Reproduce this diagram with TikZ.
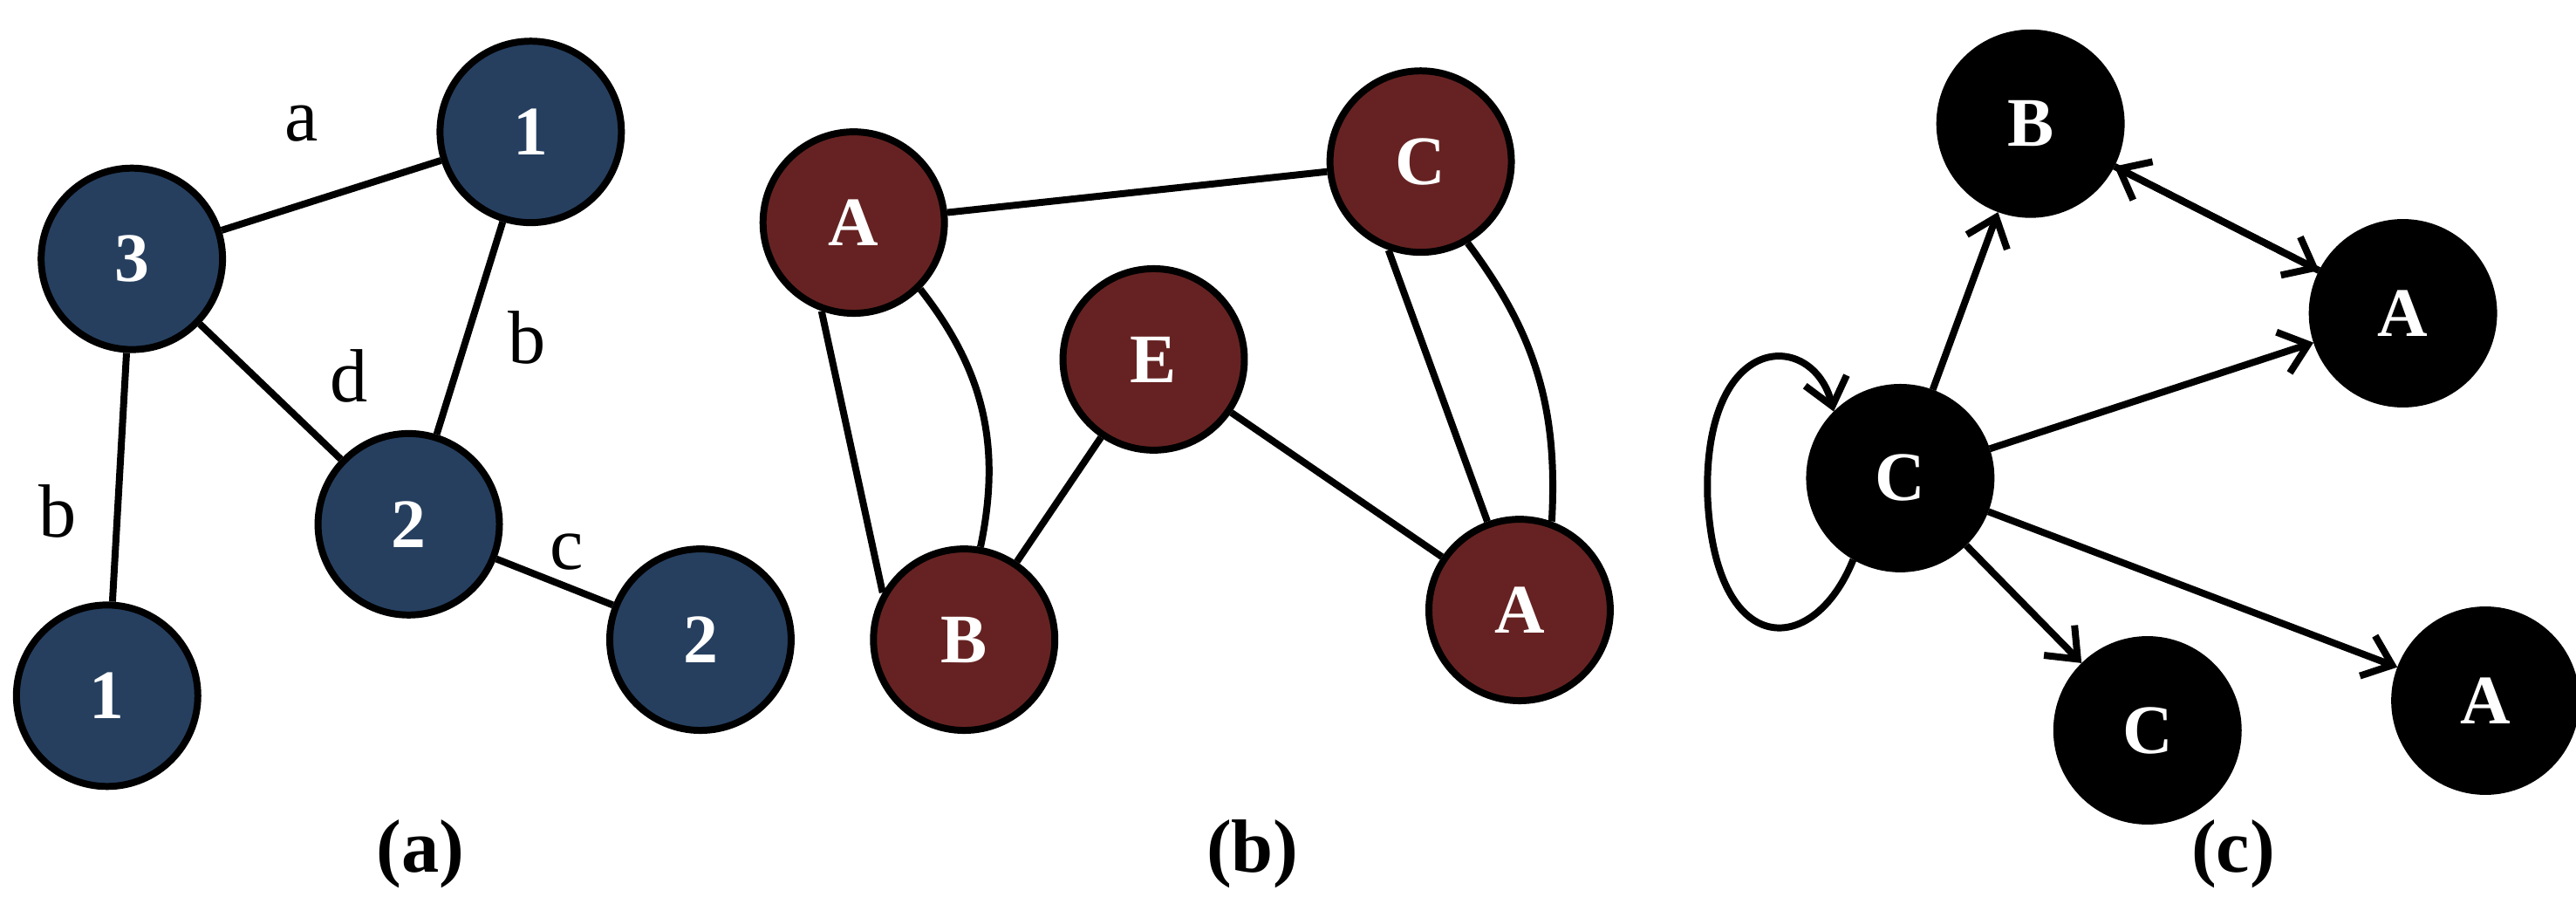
\documentclass[tikz,border=0pt]{standalone}
\usepackage{fontspec}
\setmainfont{Liberation Serif}
\usetikzlibrary{arrows.meta}
\definecolor{nblue}{HTML}{263F5F}
\definecolor{nred}{HTML}{662222}
\begin{document}
\begin{tikzpicture}[x=0.01cm,y=-0.01cm,
 n/.style={circle,draw=black,line width=1.2pt,minimum size=1.1cm,inner sep=0pt,text=white,font=\fontsize{12}{14}\selectfont\bfseries},
 bn/.style={n,fill=nblue}, rn/.style={n,fill=nred}, kn/.style={n,fill=black},
 e/.style={line width=1.2pt},
 a/.style={e,-{Straight Barb[length=1.6mm,width=2.6mm]}},
 lab/.style={font=\fontsize{13}{15}\selectfont},
 captxt/.style={font=\fontsize{13}{16}\selectfont\bfseries}]
\useasboundingbox (0,0) rectangle (1563,544);
% (a)
\node[bn] (a3) at (80,157) {3};
\node[bn] (a1) at (322,80) {1};
\node[bn] (a2) at (248,318) {2};
\node[bn] (a2b) at (425,388) {2};
\node[bn] (a1b) at (65,422) {1};
\draw[e] (a3)--(a1); \draw[e] (a3)--(a2); \draw[e] (a1)--(a2);
\draw[e] (a2)--(a2b); \draw[e] (a3)--(a1b);
\node[lab] (la) at (183,75) {a};
\node[lab] (ld) at (212,228) {d};
\node[lab] (lb) at (320,205) {b};
\node[lab] (lb2) at (35,310) {b};
\node[lab] (lc) at (344,335) {c};
\node[captxt] (ca) at (255,518) {(a)};
% (b)
\node[rn] (bA) at (518,135) {A};
\node[rn] (bC) at (862,98) {C};
\node[rn] (bE) at (700,218) {E};
\node[rn] (bA2) at (922,370) {A};
\node[rn] (bB) at (585,388) {B};
\draw[e] (bA)--(bC); \draw[e] (bE)--(bB); \draw[e] (bE)--(bA2);
\draw[e] (bA.250)--(bB.150); \draw[e] (bA.315) to[bend left=25] (bB.80);
\draw[e] (bC.250)--(bA2.110); \draw[e] (bC.300) to[bend left=20] (bA2.70);
\node[captxt] (cb) at (760,518) {(b)};
% (c)
\node[kn] (cB) at (1232,75) {B};
\node[kn] (cA) at (1458,190) {A};
\node[kn] (cC) at (1153,290) {C};
\node[kn] (cA2) at (1508,425) {A};
\node[kn] (cC2) at (1303,443) {C};
\draw[a] (cC)--(cB); \draw[a] (cB)--(cA); \draw[a] (cA)--(cB);
\draw[a] (cC)--(cA); \draw[a] (cC)--(cA2); \draw[a] (cC)--(cC2);
\draw[a] (cC.240) .. controls (1100,400) and (1040,400) .. (1036,300) .. controls (1034,200) and (1100,200) .. (cC.135);
\node[captxt] (cc) at (1355,518) {(c)};
\end{tikzpicture}
\end{document}
